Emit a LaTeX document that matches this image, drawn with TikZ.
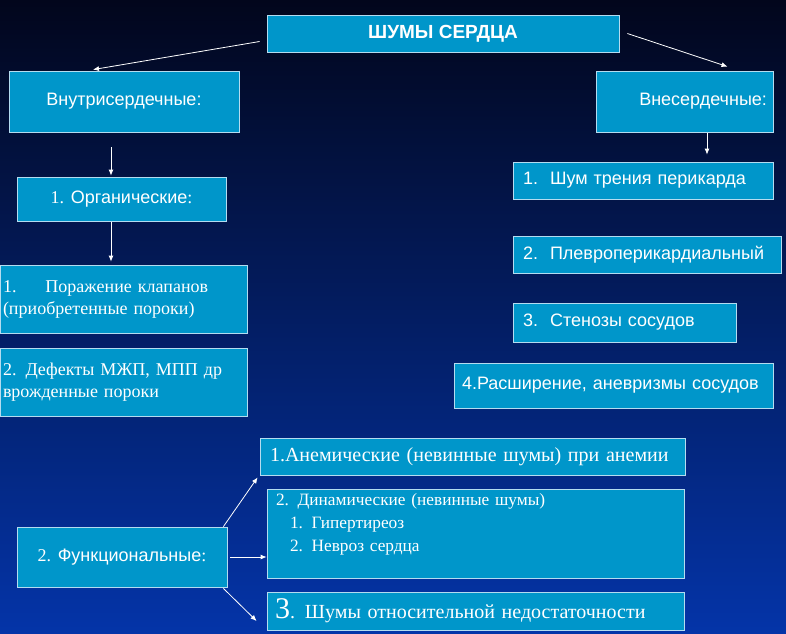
\documentclass[tikz,border=0pt]{standalone}
\usepackage{fontspec}
\setmainfont{Liberation Serif}
\setsansfont{Liberation Sans}
\usetikzlibrary{arrows.meta}

\definecolor{bgatas}{RGB}{2,6,28}
\definecolor{bgtengah}{RGB}{6,38,130}
\definecolor{bgbawah}{RGB}{4,52,168}
\definecolor{kotakbiru}{RGB}{0,150,202}
\definecolor{garistepi}{RGB}{180,220,240}

\tikzset{
  blok/.style={draw=garistepi, fill=kotakbiru, text=white, line width=0.8pt, inner sep=0pt},
  sanstext/.style={font=\sffamily\fontsize{18}{21}\selectfont},
  seriftext/.style={font=\fontsize{18}{22}\selectfont},
  panah/.style={draw=white, line width=0.8pt, -{Latex[length=6pt,width=5pt]}},
}

\begin{document}
\begin{tikzpicture}[x=1pt,y=-1pt]
    % Latar belakang
    \shade[top color=bgatas, middle color=bgtengah, bottom color=bgbawah] (0,0) rectangle (786,633);
    \useasboundingbox (0,0) rectangle (786,633);

    % Judul
    \node[blok, minimum width=352pt, minimum height=37pt, font=\sffamily\bfseries\fontsize{19}{22}\selectfont] (shumy) at (443,33.5) {ШУМЫ СЕРДЦА};

    % Cabang kiri
    \node[blok, sanstext, minimum width=230pt, minimum height=61pt] (vnutri) at (124,101.5) {Внутрисердечные:};
    \node[blok, sanstext, minimum width=209pt, minimum height=44pt] (organ) at (121.5,199) {{\rmfamily 1.} Органические{\rmfamily :}};
    \node[blok, seriftext, text width=241pt, inner xsep=3pt, minimum height=68pt, align=left] (klapan) at (123.5,299) {1.\hspace{29pt}Поражение клапанов\\(приобретенные пороки)};
    \node[blok, seriftext, text width=241pt, inner xsep=3pt, minimum height=68pt, align=left] (defekt) at (123.5,382) {2. Дефекты МЖП, МПП др\\врожденные пороки};

    % Cabang kanan
    \node[blok, sanstext, text width=165pt, inner xsep=6pt, minimum height=61pt, align=right] (vne) at (684.5,101.5) {Внесердечные:};
    \node[blok, sanstext, text width=240pt, inner xsep=10pt, minimum height=37pt, align=left] (perikard) at (643,180.5) {1.\ \ Шум трения перикарда};
    \node[blok, sanstext, text width=248pt, inner xsep=10pt, minimum height=37pt, align=left] (plevro) at (647,254.5) {2.\ \ Плевроперикардиальный};
    \node[blok, sanstext, text width=203pt, inner xsep=10pt, minimum height=39pt, align=left] (stenoz) at (624.5,322.5) {3.\ \ Стенозы сосудов};
    \node[blok, sanstext, text width=303pt, inner xsep=8pt, minimum height=45pt, align=left] (anevr) at (613.5,385.5) {4.Расширение, аневризмы сосудов};

    % Fungsional
    \node[blok, sanstext, minimum width=210pt, minimum height=60pt] (funkc) at (122,557) {{\rmfamily 2.} Функциональные{\rmfamily :}};
    \node[blok, font=\fontsize{20}{22}\selectfont, text width=405pt, inner xsep=10pt, minimum height=37pt, align=left] (anemia) at (472.5,456.5) {1.Анемические (невинные шумы) при анемии};
    \node[blok, font=\fontsize{17.3}{23}\selectfont, text width=399pt, inner xsep=9pt, minimum height=89pt, align=left] (dinam) at (475.5,533.5) {2. Динамические (невинные шумы)\\\hspace{14pt}1. Гипертиреоз\\\hspace{14pt}2. Невроз сердца\\\mbox{}};
    \node[blok, font=\fontsize{20}{22}\selectfont, text width=401pt, inner xsep=8pt, minimum height=38pt, align=left] (otnosit) at (475.5,611) {{\fontsize{30}{30}\selectfont 3}. Шумы относительной недостаточности};

    % Panah
    \draw[panah] ([xshift=-7pt,yshift=-8pt]shumy.west) -- ([xshift=-31pt,yshift=1pt]vnutri.north);
    \draw[panah] ([xshift=8pt]shumy.east) -- ([xshift=43pt,yshift=4pt]vne.north);
    \draw[panah] ([xshift=-13pt,yshift=-15pt]vnutri.south) -- ([xshift=-10.5pt,yshift=1pt]organ.north);
    \draw[panah] ([xshift=-10.5pt,yshift=-1pt]organ.south) -- ([xshift=-12.5pt,yshift=3pt]klapan.north);
    \draw[panah] ([xshift=22.5pt,yshift=-1pt]vne.south) -- ([xshift=64pt,yshift=7pt]perikard.north);
    \draw[panah] ([xshift=-4pt]funkc.north east) -- ([xshift=-2pt,yshift=-2pt]anemia.south west);
    \draw[panah] ([xshift=3pt]funkc.east) -- (funkc.east -| dinam.west);
    \draw[panah] ([xshift=-4pt,yshift=-1pt]funkc.south east) -- ([xshift=-10pt,yshift=-10pt]otnosit.west);
\end{tikzpicture}
\end{document}
